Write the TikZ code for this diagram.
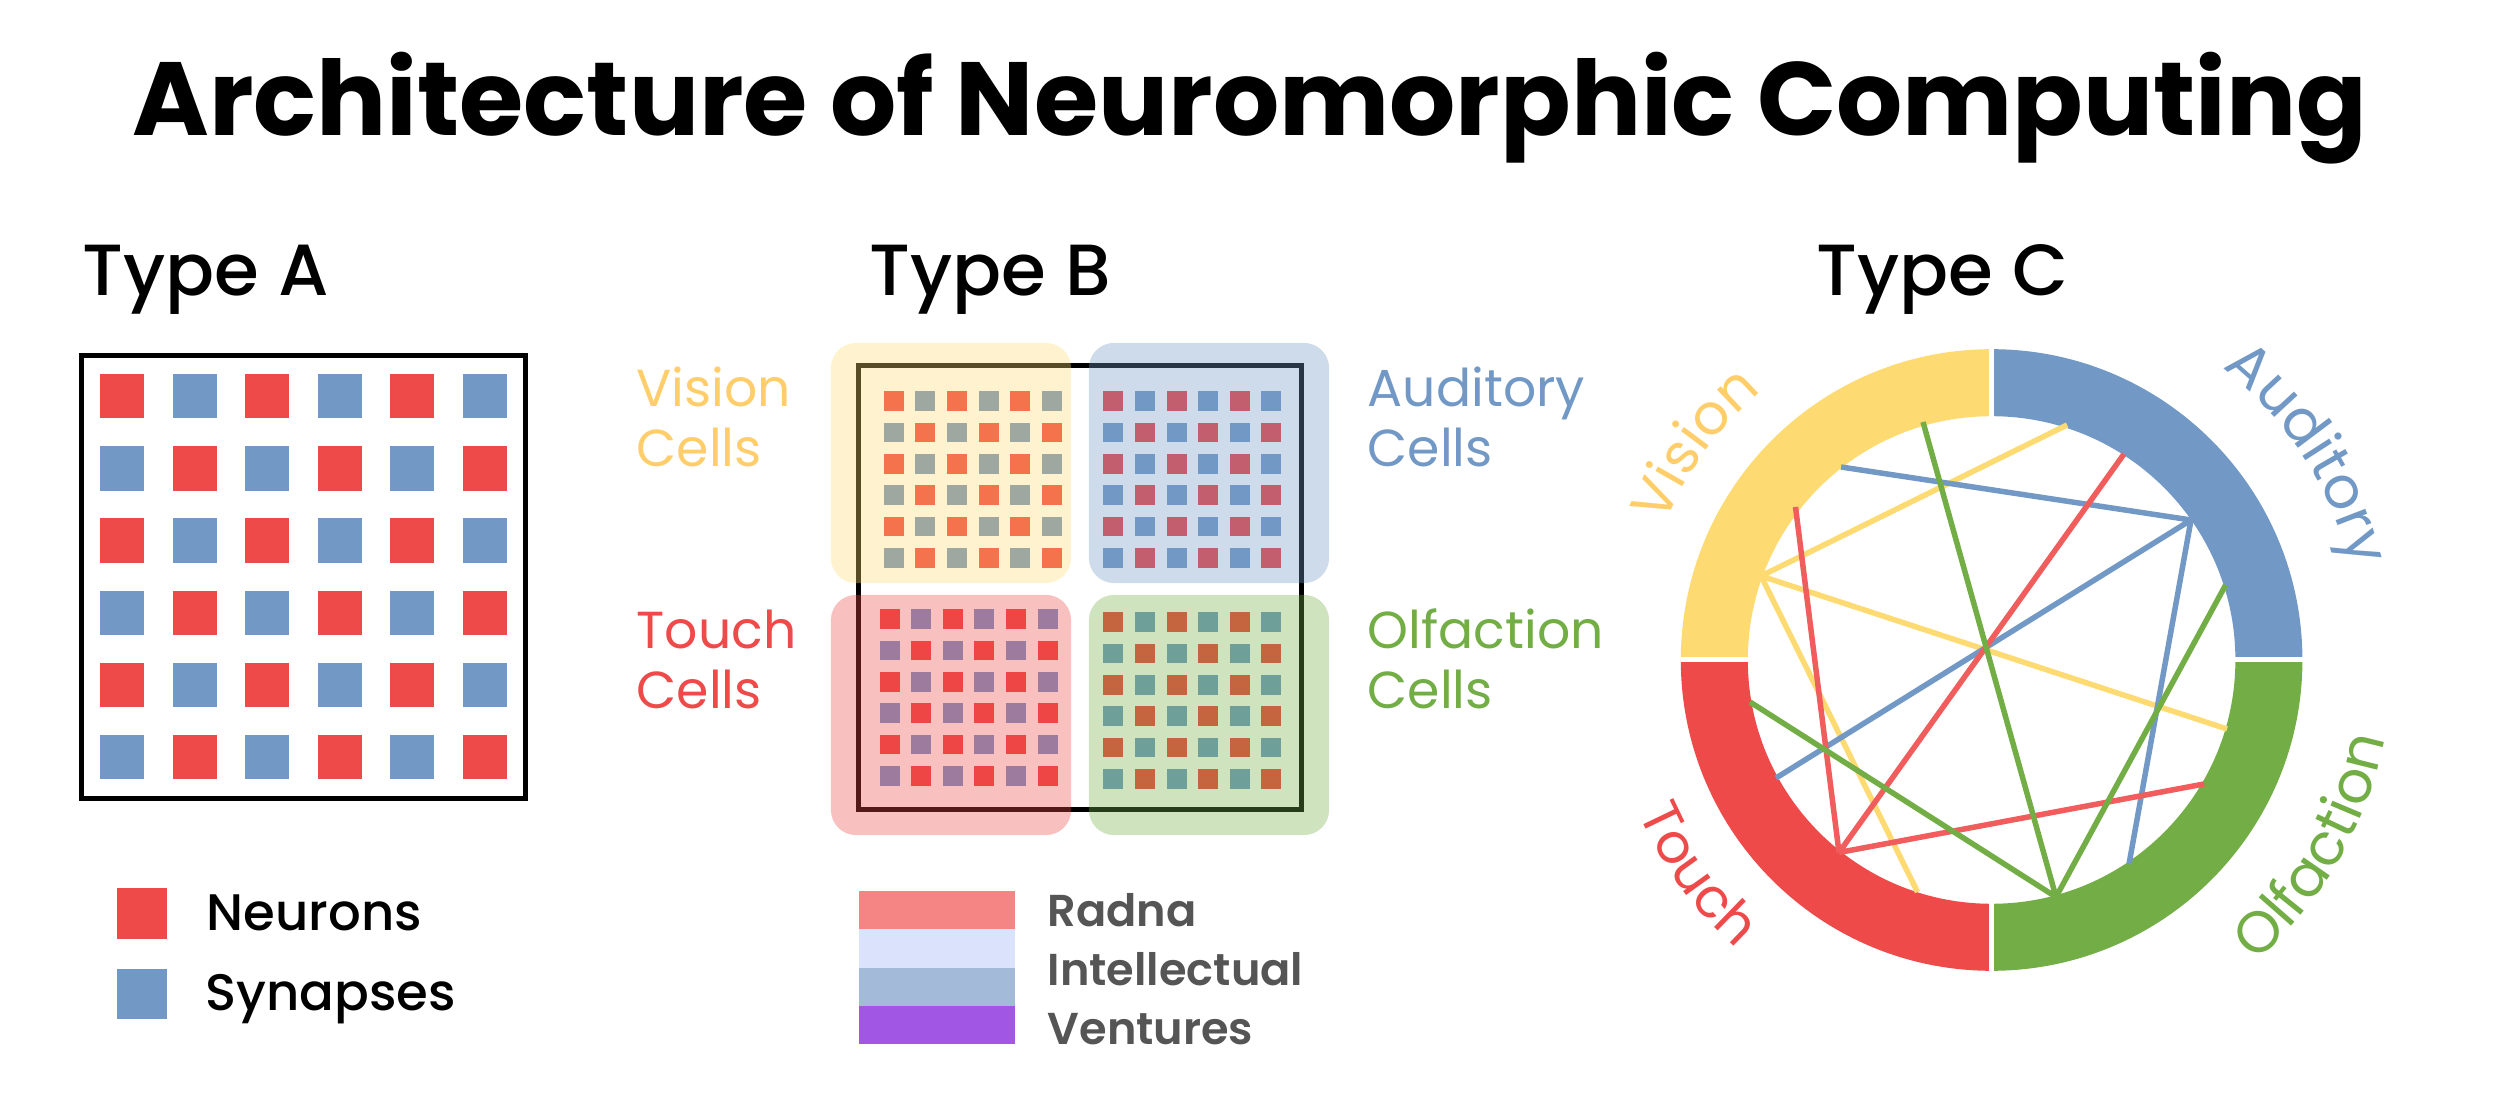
\documentclass[tikz,border=0pt]{standalone}
\usepackage{fontspec}
\setmainfont{Poppins}
\newfontfamily\titlefont{Poppins}[UprightFont=* Bold]
\newfontfamily\headfont{Poppins}[UprightFont=* Medium]
\newfontfamily\brandfont{Poppins}[UprightFont=* SemiBold]
\usetikzlibrary{decorations.text}
\definecolor{visionc}{HTML}{FEDB72}
\definecolor{visiontext}{HTML}{FFCE6B}
\definecolor{auditoryc}{HTML}{7299C6}
\definecolor{touchc}{HTML}{EF4A4A}
\definecolor{olfactionc}{HTML}{72AE45}
\definecolor{brandgray}{HTML}{555555}
\tikzset{x=0.01cm, y=0.01cm,
	cell/.style={rectangle, inner sep=0, minimum size=0.443cm},
	minicell/.style={rectangle, inner sep=0, minimum width=0.2cm, minimum height=0.196cm},
	panel/.style={rectangle, inner sep=0, minimum size=2.4cm, rounded corners=0.25cm, fill opacity=0.35},
	label/.style={inner sep=0, anchor=base west},
	chord/.style={line width=0.055cm},
	quarter/.style={line width=0.67cm},
	swatch/.style={rectangle, inner sep=0, minimum width=1.56cm, minimum height=0.385cm}}

\begin{document}
\begin{tikzpicture}
	\useasboundingbox (0,0) rectangle (2500,1100);
	\def \rmid {277.3} %ring centre line
	\node[inner sep=0, anchor=base, font=\titlefont\fontsize{29.6}{30}\selectfont] at (1250,964) (title) {Architecture of Neuromorphic Computing};
	\node[label, font=\headfont\fontsize{20.6}{21}\selectfont] at (82,804) (head A) {Type A};
	\node[label, font=\headfont\fontsize{20.6}{21}\selectfont] at (869,804) (head B) {Type B};
	\node[label, font=\headfont\fontsize{20.6}{21}\selectfont] at (1816,804) (head C) {Type C};

	% type A
	\node[draw, line width=0.045cm, rectangle, inner sep=0, minimum width=4.44cm, minimum height=4.43cm] at (303.5,523) (box A) {};
	\foreach \row in {0,...,5}
		\foreach \col in {0,...,5} {
			\pgfmathtruncatemacro{\odd}{mod(\row+\col,2)}
			\ifnum\odd=0 \def\shade{touchc}\else \def\shade{auditoryc}\fi
			\node[cell, fill=\shade] at ({122.2+72.5*\col},{703.8-72.2*\row}) (A\row\col) {};
		}
	\node[cell, minimum width=0.5cm, minimum height=0.505cm, fill=touchc] at (142,186.5) (key neuron) {};
	\node[cell, minimum width=0.5cm, minimum height=0.505cm, fill=auditoryc] at (142,106) (key synapse) {};
	\node[label, font=\headfont\fontsize{14.6}{15}\selectfont] at (206,169) (neurons) {Neurons};
	\node[label, font=\headfont\fontsize{14.6}{15}\selectfont] at (205,89) (synapses) {Synapses};

	% type B
	\node[draw, line width=0.05cm, rectangle, inner sep=0, minimum width=4.43cm, minimum height=4.44cm] at (1080,512.5) (box B) {};
	\node[panel, fill=visionc] at (951,637) (vision panel) {};
	\node[panel, fill=auditoryc] at (1209,637) (auditory panel) {};
	\node[panel, fill=touchc] at (951,385) (touch panel) {};
	\node[panel, fill=olfactionc] at (1209,385) (olfaction panel) {};
	\foreach \name/\xs/\ys/\first/\second in {V/893.7/699/F4734D/9EA8A0, H/1113.4/699/C25E6E/7299C6, T/889.5/481/EE4545/9C7B9E, O/1113.4/478/C4653F/6F9F99}
		\foreach \row in {0,...,5}
			\foreach \col in {0,...,5} {
				\pgfmathtruncatemacro{\odd}{mod(\row+\col,2)}
				\ifnum\odd=0 \definecolor{shade}{HTML}{\first}\else \definecolor{shade}{HTML}{\second}\fi
				\node[minicell, fill=shade] at ({\xs+31.6*\col},{\ys-31.4*\row}) (\name\row\col) {};
			}
	\node[label, font=\fontsize{14.8}{15}\selectfont, text=visiontext] at (636,693) (vision a) {Vision};
	\node[label, font=\fontsize{14.8}{15}\selectfont, text=visiontext] at (636,633) (vision b) {Cells};
	\node[label, font=\fontsize{14.8}{15}\selectfont, text=auditoryc] at (1367,693) (auditory a) {Auditory};
	\node[label, font=\fontsize{14.8}{15}\selectfont, text=auditoryc] at (1367,633) (auditory b) {Cells};
	\node[label, font=\fontsize{14.8}{15}\selectfont, text=touchc] at (636,451) (touch a) {Touch};
	\node[label, font=\fontsize{14.8}{15}\selectfont, text=touchc] at (636,391) (touch b) {Cells};
	\node[label, font=\fontsize{14.8}{15}\selectfont, text=olfactionc] at (1367,451) (olfaction a) {Olfaction};
	\node[label, font=\fontsize{14.8}{15}\selectfont, text=olfactionc] at (1367,391) (olfaction b) {Cells};
	\node[swatch, fill={rgb,255:red,245;green,133;blue,133}] at (937,190) (band a) {};
	\node[swatch, fill={rgb,255:red,219;green,227;blue,252}] at (937,151.5) (band b) {};
	\node[swatch, fill={rgb,255:red,163;green,187;blue,217}] at (937,113) (band c) {};
	\node[swatch, fill={rgb,255:red,161;green,87;blue,227}] at (937,75) (band d) {};
	\node[label, font=\brandfont\fontsize{12.7}{13}\selectfont, text=brandgray] at (1047,173) (radna) {Radna};
	\node[label, font=\brandfont\fontsize{12.7}{13}\selectfont, text=brandgray] at (1047,114) (intellectual) {Intellectual};
	\node[label, font=\brandfont\fontsize{12.7}{13}\selectfont, text=brandgray] at (1047,55) (ventures) {Ventures};

	% type C
	\coordinate (hub) at (1991.6,440);
	\draw[quarter, auditoryc] (hub) ++(90:\rmid) arc[start angle=90, end angle=0, radius=\rmid];
	\draw[quarter, olfactionc] (hub) ++(0:\rmid) arc[start angle=0, end angle=-90, radius=\rmid];
	\draw[quarter, touchc] (hub) ++(-90:\rmid) arc[start angle=-90, end angle=-180, radius=\rmid];
	\draw[quarter, visionc] (hub) ++(180:\rmid) arc[start angle=180, end angle=90, radius=\rmid];
	\coordinate (gap n) at (1991.6,755);
	\coordinate (gap s) at (1991.6,125);
	\coordinate (gap w) at (1675,440);
	\coordinate (gap e) at (2308,440);
	\draw[white, line width=0.05cm] (gap n) -- (gap s) (gap w) -- (gap e);

	\coordinate (p1) at (1923,678);
	\coordinate (p2) at (2056,203);
	\coordinate (p3) at (2067,675);
	\coordinate (p4) at (1761,524);
	\coordinate (p5) at (1841,633);
	\coordinate (p6) at (2191,580);
	\coordinate (p7) at (2124,646);
	\coordinate (p8) at (1839,247.5);
	\coordinate (p9) at (1795.5,593);
	\coordinate (p10) at (1776,322);
	\coordinate (p11) at (2129,236);
	\coordinate (p12) at (2225.6,515);
	\coordinate (p13) at (2227,371);
	\coordinate (p14) at (1917.5,208);
	\coordinate (p15) at (1750,398);
	\coordinate (p16) at (2204,316);
	\draw[chord, visionc] (p3) -- (p4) (p4) -- (p13) (p4) -- (p14);
	\draw[chord, auditoryc] (p5) -- (p6) (p6) -- (p10) (p6) -- (p11);
	\draw[chord, touchc!90!white] (p7) -- (p8) (p9) -- (p8) (p8) -- (p16);
	\draw[chord, olfactionc] (p1) -- (p2) (p12) -- (p2) (p15) -- (p2);

	\path[decorate, decoration={text along path, text align=center, text={|\fontsize{16}{17}\selectfont\color{visiontext}|Vision}}] (hub) ++(161:354) arc[start angle=161, end angle=127, radius=354];
	\path[decorate, decoration={text along path, text align=center, text={|\fontsize{16.5}{17}\selectfont\color{auditoryc}|Auditory}}] (hub) ++(58:372) arc[start angle=58, end angle=8, radius=372];
	\path[decorate, decoration={text along path, text align=center, text={|\fontsize{15.6}{17}\selectfont\color{touchc}|Touch}}] (hub) ++(196:385) arc[start angle=196, end angle=236, radius=385];
	\path[decorate, decoration={text along path, text align=center, text={|\fontsize{16.5}{17}\selectfont\color{olfactionc}|Olfaction}}] (hub) ++(-54:401) arc[start angle=-54, end angle=-6, radius=401];
\end{tikzpicture}
\end{document}
